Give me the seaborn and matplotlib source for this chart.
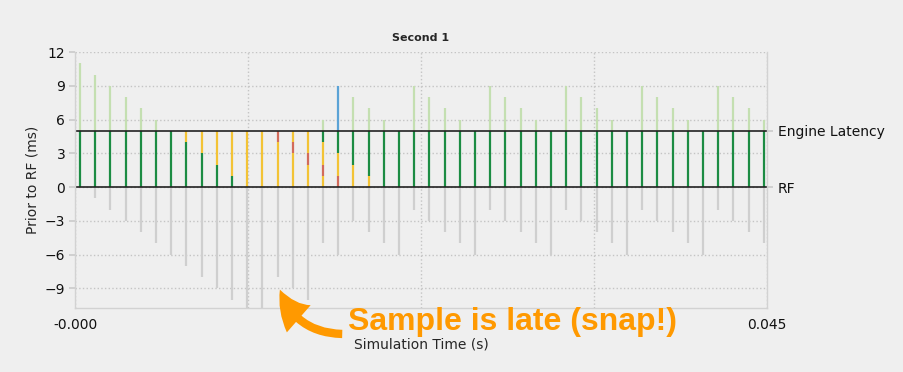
import matplotlib
matplotlib.use("Agg")
import pandas as pd
import matplotlib.pyplot as plt
import seaborn as sns

# sample instants (s)
sample_times = [
    0.00033, 0.00131, 0.00230, 0.00329, 0.00428, 0.00527, 0.00625, 0.00724,
    0.00823, 0.00922, 0.01021, 0.01119, 0.01218, 0.01317, 0.01416, 0.01515,
    0.01613, 0.01712, 0.01811, 0.01910, 0.02009, 0.02107, 0.02206, 0.02305,
    0.02404, 0.02503, 0.02601, 0.02700, 0.02799, 0.02898, 0.02997, 0.03095,
    0.03194, 0.03293, 0.03392, 0.03491, 0.03589, 0.03688, 0.03787, 0.03886,
    0.03985, 0.04083, 0.04182, 0.04281, 0.04380, 0.04479,
]

# slack above engine latency (ms)
above_top = [11, 10, 9, 8, 7, 6, 5, 5, 5, 5, 5, 5, 5, 5, 5, 5,
             6, 9, 8, 7, 6, 5,
             9, 8, 7, 6, 5, 9, 8, 7, 6, 5, 9, 8, 7, 6, 5, 9, 8, 7, 6, 5,
             9, 8, 7, 6]
above_kind = ["spare"] * 17 + ["early"] + ["spare"] * 28

# time left after RF (ms)
below_bottom = [0, -1, -2, -3, -4, -5, -6, -7, -8, -9, -10, -11, -12, -8, -9, -10,
                -5, -6, -3, -4, -5, -6,
                -2, -3, -4, -5, -6, -2, -3, -4, -5, -6, -2, -3, -4, -5, -6,
                -2, -3, -4, -5, -6, -2, -3, -4, -5]

# segments between RF and engine latency, bottom to top: (kind, upper edge)
mid_stacks = (
    [[("ok", 5)]] * 7
    + [
        [("ok", 4), ("wait", 5)],
        [("ok", 3), ("wait", 5)],
        [("ok", 2), ("wait", 5)],
        [("ok", 1), ("wait", 5)],
        [("wait", 5)],
        [("wait", 5)],
        [("wait", 4), ("late", 5)],
        [("wait", 3), ("late", 4), ("wait", 5)],
        [("wait", 2), ("late", 3), ("wait", 5)],
        [("wait", 1), ("late", 2), ("wait", 4), ("ok", 5)],
        [("late", 1), ("wait", 3), ("ok", 5)],
        [("wait", 2), ("ok", 5)],
        [("wait", 1), ("ok", 5)],
    ]
    + [[("ok", 5)]] * 26
)

engine_latency = 5
x_ticks = [0.0, 0.01125, 0.0225, 0.03375, 0.045]
x_ticklabels = ["-0.000", "", "", "", "0.045"]
y_ticks = [-9, -6, -3, 0, 3, 6, 9, 12]

palette = {
    "slack": "#cfcfcf",
    "spare": "#c4dfb1",
    "early": "#5ba3d6",
    "ok": "#1c8c43",
    "wait": "#f3c335",
    "late": "#d26b5b",
}

rows = []
for t, top, kind, bot, stack in zip(sample_times, above_top, above_kind, below_bottom, mid_stacks):
    rows.append((t, bot, 0, "slack"))
    rows.append((t, engine_latency, top, kind))
    lo = 0
    for k, hi in stack:
        rows.append((t, lo, hi, k))
        lo = hi
segs = pd.DataFrame(rows, columns=["time", "y0", "y1", "kind"])

sns.set_theme(style="whitegrid")
plt.rcParams["font.family"] = ["DejaVu Sans"]
bg = "#efefef"

fig = plt.figure(figsize=(9.04, 3.72), dpi=100, facecolor=bg)
ax = fig.add_axes([75 / 904, 1 - 308 / 372, 692 / 904, 256 / 372])
ax.set_facecolor(bg)

for kind in ["slack", "spare", "early", "ok", "wait", "late"]:
    g = segs[segs["kind"] == kind]
    ax.vlines(g["time"], g["y0"], g["y1"], color=palette[kind], lw=1.6)

ax.axhline(engine_latency, color="#222222", lw=1.2)
ax.axhline(0, color="#222222", lw=1.2)

ax.set_xlim(0, 0.045)
ax.set_ylim(-10.75, 12)
ax.set_xticks(x_ticks)
ax.set_xticklabels(x_ticklabels)
ax.set_yticks(y_ticks)
ax.grid(True, linestyle=":", color="#c4c4c4", lw=1)
ax.set_axisbelow(True)
ax.tick_params(axis="both", length=4, color="#cccccc", labelsize=10, labelcolor="#111111", pad=3)
for side in ["left", "bottom", "right"]:
    ax.spines[side].set_color("#d2d2d2")
    ax.spines[side].set_linewidth(1)
ax.spines["top"].set_visible(False)

ax.set_title("Second 1", fontsize=8, fontweight="bold", pad=8)
ax.set_ylabel("Prior to RF (ms)", fontsize=10)
ax.set_xlabel("Simulation Time (s)", fontsize=10, labelpad=4)

ax2 = ax.twinx()
ax2.set_ylim(ax.get_ylim())
ax2.set_yticks([engine_latency, 0])
ax2.set_yticklabels(["Engine Latency", "RF"])
ax2.grid(False)
ax2.tick_params(axis="y", length=4, color="#cccccc", labelsize=10, labelcolor="#111111", pad=4)
for side in ["left", "bottom", "right", "top"]:
    ax2.spines[side].set_visible(False)

# callout
fig.text(348 / 904, 1 - 322 / 372, "Sample is late (snap!)", color="#ff9900",
         fontsize=23, fontweight="bold", family=["Liberation Sans", "DejaVu Sans"], va="center")
ax.annotate("", xy=(279, 372 - 287), xytext=(345, 372 - 334),
            xycoords="figure pixels", textcoords="figure pixels", annotation_clip=False,
            arrowprops=dict(arrowstyle="simple,head_length=1.25,head_width=1.3,tail_width=0.3",
                            mutation_scale=20, connectionstyle="angle3,angleA=0,angleB=108",
                            color="#ff9900", lw=0))

fig.savefig("out.png", dpi=100, facecolor=bg)
